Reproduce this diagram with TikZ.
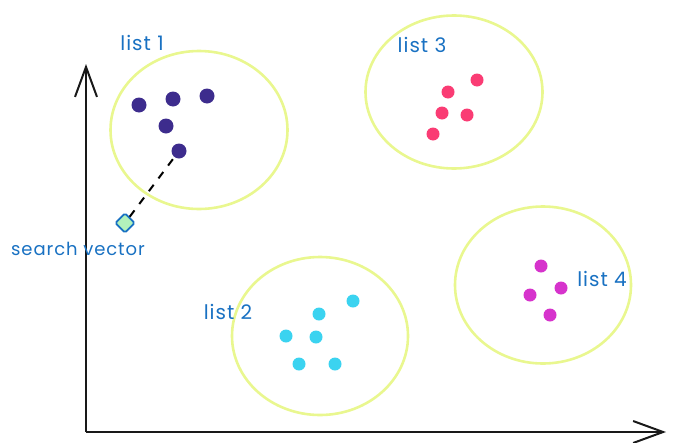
\documentclass[tikz,border=0pt]{standalone}
\usepackage{fontspec}
\setmainfont[LetterSpace=5]{Poppins}
\usetikzlibrary{shapes.geometric,arrows.meta}
\definecolor{lime}{HTML}{E9F78F}
\definecolor{labelblue}{HTML}{1971C2}
\definecolor{navy}{HTML}{3D2C8D}
\definecolor{rose}{HTML}{FA3C74}
\definecolor{sky}{HTML}{3BD3F0}
\definecolor{magent}{HTML}{D633CC}
\definecolor{mint}{HTML}{B2F2BB}
\tikzstyle{cluster} = [ellipse, draw=lime, line width=2.6pt, inner sep=0pt]
\tikzstyle{listlabel} = [text=labelblue, font=\fontsize{20}{22}\selectfont, inner sep=0pt]
\tikzstyle{dotA} = [circle, fill=navy, minimum size=15pt, inner sep=0pt]
\tikzstyle{dotB} = [circle, fill=rose, minimum size=13pt, inner sep=0pt]
\tikzstyle{dotC} = [circle, fill=sky, minimum size=13pt, inner sep=0pt]
\tikzstyle{dotD} = [circle, fill=magent, minimum size=13pt, inner sep=0pt]
\tikzstyle{query} = [diamond, rounded corners=1.5pt, draw=labelblue, fill=mint, line width=1.8pt, minimum size=20pt, inner sep=0pt]
\tikzstyle{axis} = [line width=2pt, draw=black!90, -{Straight Barb[length=30pt,width=22pt,line width=2pt]}]
\begin{document}
\begin{tikzpicture}[x=1pt,y=-1pt]
\useasboundingbox (0,0) rectangle (674,442);

\node (ring1) [cluster, minimum width=177pt, minimum height=158pt] at (199,130) {};
\node (ring3) [cluster, minimum width=177pt, minimum height=153pt] at (454,92) {};
\node (ring2) [cluster, minimum width=176pt, minimum height=158pt] at (320,336) {};
\node (ring4) [cluster, minimum width=176pt, minimum height=157pt] at (543,285) {};
%
\coordinate (origin) at (86,432);
\coordinate (ytop) at (86,64);
\coordinate (xend) at (666,432);
\draw [axis] (origin) -- (ytop);
\draw [axis] (origin) -- (xend);
%
\node (a1) [dotA] at (139,105) {};
\node (a2) [dotA] at (173,99) {};
\node (a3) [dotA] at (207,96) {};
\node (a4) [dotA] at (166,126) {};
\node (a5) [dotA] at (179,151) {};
%
\node (b1) [dotB] at (448,92) {};
\node (b2) [dotB] at (477,80) {};
\node (b3) [dotB] at (442,113) {};
\node (b4) [dotB] at (467,115) {};
\node (b5) [dotB] at (433,134) {};
%
\node (c1) [dotC] at (353,301) {};
\node (c2) [dotC] at (319,314) {};
\node (c3) [dotC] at (286,336) {};
\node (c4) [dotC] at (316,337) {};
\node (c5) [dotC] at (299,364) {};
\node (c6) [dotC] at (335,364) {};
%
\node (d1) [dotD] at (541,266) {};
\node (d2) [dotD] at (561,288) {};
\node (d3) [dotD] at (530,295) {};
\node (d4) [dotD] at (550,315) {};
%
\node (search) [query] at (125,223) {};
\draw [line width=2pt, dash pattern=on 8pt off 8pt] (search) -- (a5);
%
\node (label1) [listlabel] at (142,43) {list 1};
\node (label2) [listlabel] at (228,312) {list 2};
\node (label3) [listlabel] at (422,45) {list 3};
\node (label4) [listlabel] at (602,279) {list 4};
\node (labelq) [listlabel, font=\fontsize{18}{20}\selectfont] at (78,249) {search vector};

\end{tikzpicture}
\end{document}
